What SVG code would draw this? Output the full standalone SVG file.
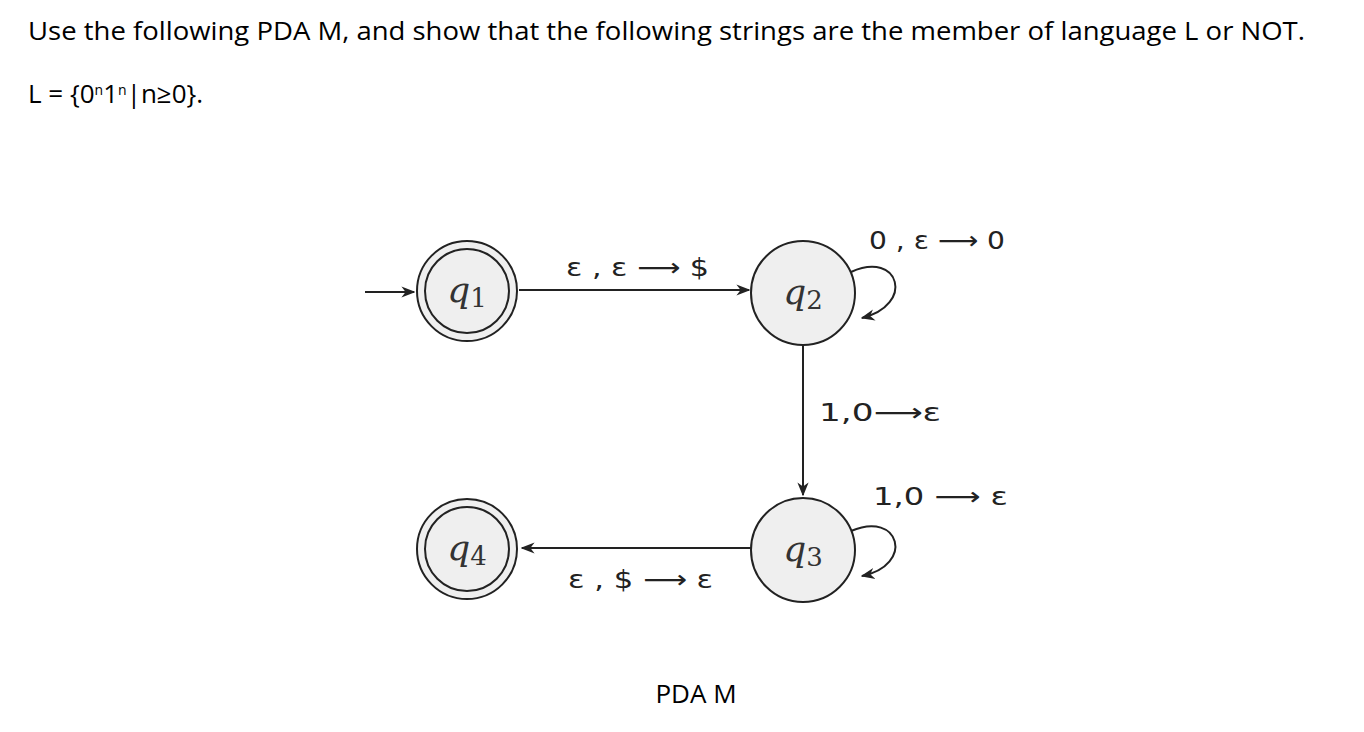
<svg xmlns="http://www.w3.org/2000/svg" width="1364" height="732" viewBox="0 0 1364 732">
<style>
.t{font-family:"Open Sans","Liberation Sans",sans-serif;font-size:26px;fill:#000}
.st{fill:#efefef;stroke:#222;stroke-width:2}
.acc{fill:#efefef;stroke:#222;stroke-width:2}
.q{font-family:"DejaVu Serif","Liberation Serif",serif;font-style:italic;font-size:36px;fill:#333}
.sub{font-style:normal;font-size:26px}
.lb{font-family:"DejaVu Sans","Liberation Sans",sans-serif;font-size:25px;fill:#222}
.e{fill:none;stroke:#222;stroke-width:2}
</style>
<defs><marker id="a" viewBox="0 0 10 10" refX="9" refY="5" markerWidth="7" markerHeight="7" orient="auto-start-reverse"><path d="M0,1 L10,5 L0,9 L3,5z" fill="#222"/></marker></defs>
<text class="t" x="28" y="40" textLength="1277" lengthAdjust="spacingAndGlyphs">Use the following PDA M, and show that the following strings are the member of language L or NOT.</text>
<text class="t" x="28" y="103">L = {0<tspan dy="-8" font-size="14">n</tspan><tspan dy="8">1</tspan><tspan dy="-8" font-size="14">n</tspan><tspan dy="8">|n≥0}.</tspan></text>
<g id="connectors">
<path class="e" d="M365,292 L414,292" marker-end="url(#a)"/>
<path class="e" d="M519,290 L749,290" marker-end="url(#a)"/>
<path class="e" d="M851,272 C900,250 915,305 862,318" marker-end="url(#a)"/>
<path class="e" d="M803,345 L803,495" marker-end="url(#a)"/>
<path class="e" d="M851,531 C900,510 915,565 862,576" marker-end="url(#a)"/>
<path class="e" d="M751,548 L522,548" marker-end="url(#a)"/>
<text class="lb" x="566" y="276" textLength="143" lengthAdjust="spacingAndGlyphs">ε , ε ⟶ $</text>
<text class="lb" x="869" y="249" textLength="136" lengthAdjust="spacingAndGlyphs">0 , ε ⟶ 0</text>
<text class="lb" x="819" y="421" textLength="122" lengthAdjust="spacingAndGlyphs">1,0⟶ε</text>
<text class="lb" x="873" y="505" textLength="135" lengthAdjust="spacingAndGlyphs">1,0 ⟶ ε</text>
<text class="lb" x="568" y="588" textLength="145" lengthAdjust="spacingAndGlyphs">ε , $ ⟶ ε</text>
</g>
<g id="q1"><circle class="acc" cx="467" cy="291" r="50"/><circle fill="none" stroke="#222" stroke-width="2" cx="467" cy="291" r="42"/><text class="q" x="467" y="302" text-anchor="middle">q<tspan class="sub" dy="5">1</tspan></text></g>
<g id="q2"><circle class="st" cx="803" cy="293" r="52"/><text class="q" x="803" y="304" text-anchor="middle">q<tspan class="sub" dy="5">2</tspan></text></g>
<g id="q3"><circle class="st" cx="803" cy="550" r="52"/><text class="q" x="803" y="561" text-anchor="middle">q<tspan class="sub" dy="5">3</tspan></text></g>
<g id="q4"><circle class="acc" cx="467" cy="549" r="50"/><circle fill="none" stroke="#222" stroke-width="2" cx="467" cy="549" r="42"/><text class="q" x="467" y="560" text-anchor="middle">q<tspan class="sub" dy="5">4</tspan></text></g>
<text class="t" x="696" y="703" text-anchor="middle" font-size="24">PDA M</text>
</svg>
